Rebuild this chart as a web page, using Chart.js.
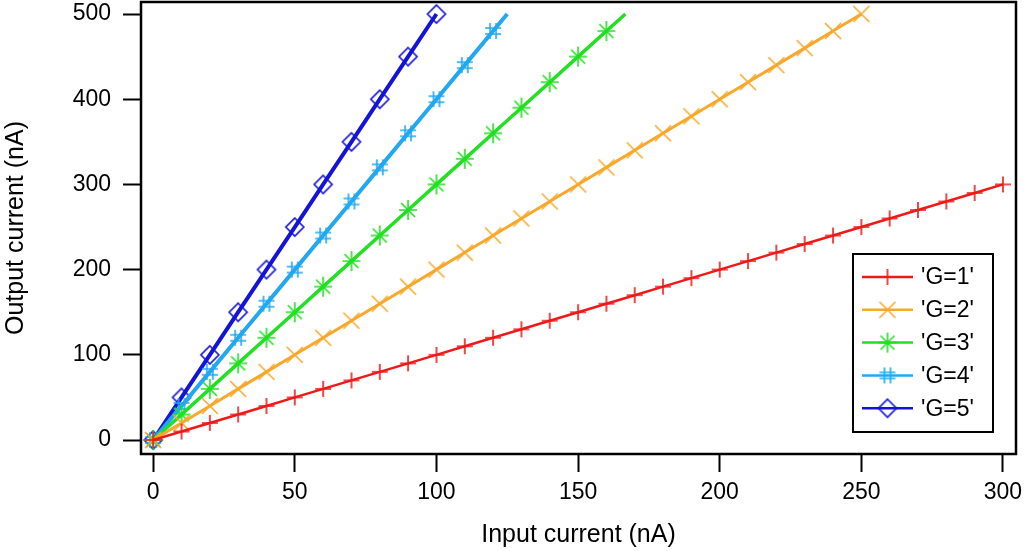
<!DOCTYPE html>
<html>
<head>
<meta charset="utf-8">
<script src="https://cdn.jsdelivr.net/npm/chart.js@4/dist/chart.umd.min.js"></script>
<style>
  html, body { margin: 0; padding: 0; background: #fff; }
</style>
</head>
<body>
<canvas id="chart" width="1025" height="551"></canvas>
<script>
// values (nA)
var inputG1 = [0,10,20,30,40,50,60,70,80,90,100,110,120,130,140,150,160,170,180,190,200,210,220,230,240,250,260,270,280,290,300];
var outputG1 = [0,10,20,30,40,50,60,70,80,90,100,110,120,130,140,150,160,170,180,190,200,210,220,230,240,250,260,270,280,290,300];
var inputG2 = [0,10,20,30,40,50,60,70,80,90,100,110,120,130,140,150,160,170,180,190,200,210,220,230,240,250];
var outputG2 = [0,20,40,60,80,100,120,140,160,180,200,220,240,260,280,300,320,340,360,380,400,420,440,460,480,500];
var inputG3 = [0,10,20,30,40,50,60,70,80,90,100,110,120,130,140,150,160,166.7];
var outputG3 = [0,30,60,90,120,150,180,210,240,270,300,330,360,390,420,450,480,500];
var inputG4 = [0,10,20,30,40,50,60,70,80,90,100,110,120,125];
var outputG4 = [0,40,80,120,160,200,240,280,320,360,400,440,480,500];
var inputG5 = [0,10,20,30,40,50,60,70,80,90,100];
var outputG5 = [0,50,100,150,200,250,300,350,400,450,500];

var seriesLabels = ["'G=1'", "'G=2'", "'G=3'", "'G=4'", "'G=5'"];
var xTicks = [0,50,100,150,200,250,300];
var yTicks = [0,100,200,300,400,500];

var colors = ['#f01818', '#f8a82a', '#22e022', '#22a8f0', '#1414d8'];
var FONT = 'Liberation Sans, Arial, sans-serif';

// marker glyphs drawn on small canvases
function marker(kind, color) {
  var c = document.createElement('canvas');
  c.width = 22; c.height = 22;
  var g = c.getContext('2d');
  g.strokeStyle = color;
  g.lineWidth = 1.6;
  g.beginPath();
  if (kind == 'plus') {
    g.moveTo(11, 3); g.lineTo(11, 19);
    g.moveTo(3, 11); g.lineTo(19, 11);
  } else if (kind == 'x') {
    g.moveTo(3, 3); g.lineTo(19, 19);
    g.moveTo(19, 3); g.lineTo(3, 19);
  } else if (kind == 'star') {
    g.moveTo(11, 1); g.lineTo(11, 21);
    g.moveTo(2, 11); g.lineTo(20, 11);
    g.moveTo(4, 4); g.lineTo(18, 18);
    g.moveTo(18, 4); g.lineTo(4, 18);
  } else if (kind == 'hash') {
    g.moveTo(8, 3); g.lineTo(8, 19);
    g.moveTo(14, 3); g.lineTo(14, 19);
    g.moveTo(3, 8); g.lineTo(19, 8);
    g.moveTo(3, 14); g.lineTo(19, 14);
  } else if (kind == 'diamond') {
    g.moveTo(11, 2); g.lineTo(20, 11); g.lineTo(11, 20); g.lineTo(2, 11); g.closePath();
  }
  g.stroke();
  return c;
}
var markers = [
  marker('plus', colors[0]),
  marker('x', colors[1]),
  marker('star', colors[2]),
  marker('hash', colors[3]),
  marker('diamond', colors[4])
];
var lineWidths = [2.5, 3, 3.5, 4, 4];

function pts(xs, ys) {
  return xs.map(function (x, i) { return { x: x, y: ys[i] }; });
}
var allData = [pts(inputG1, outputG1), pts(inputG2, outputG2), pts(inputG3, outputG3), pts(inputG4, outputG4), pts(inputG5, outputG5)];

var datasets = allData.map(function (d, i) {
  return {
    label: seriesLabels[i],
    data: d,
    borderColor: colors[i],
    borderWidth: lineWidths[i],
    pointStyle: markers[i],
    // the line end points without a marker (G=3, G=4)
    pointRadius: function (ctx) { return ctx.raw && ctx.raw.x % 10 === 0 ? 5 : 0; },
    pointHoverRadius: 5,
    tension: 0,
    fill: false
  };
});

// frame round the plot and the boxed legend
var framePlugin = {
  id: 'frame',
  afterDraw: function (chart) {
    var ctx = chart.ctx, a = chart.chartArea;
    ctx.save();
    ctx.strokeStyle = '#000';
    ctx.lineWidth = 2.5;
    ctx.strokeRect(a.left, a.top, a.right - a.left, a.bottom - a.top);

    // legend
    var bx = 853, by = 254, bw = 140, bh = 178;
    ctx.fillStyle = '#fff';
    ctx.fillRect(bx, by, bw, bh);
    ctx.lineWidth = 2;
    ctx.strokeRect(bx, by, bw, bh);
    ctx.font = '23px ' + FONT;
    ctx.textBaseline = 'middle';
    ctx.textAlign = 'left';
    chart.data.datasets.forEach(function (ds, i) {
      var y = 277 + i * 32.8;
      ctx.strokeStyle = ds.borderColor;
      ctx.lineWidth = 2.5;
      ctx.beginPath();
      ctx.moveTo(862, y); ctx.lineTo(913, y);
      ctx.stroke();
      ctx.drawImage(ds.pointStyle, 887.5 - 11, y - 11);
      ctx.fillStyle = '#000';
      ctx.fillText(ds.label, 921, y + 1);
    });
    ctx.restore();
  }
};

function noPadding() { return { left: 0, top: 0, right: 0, bottom: 0 }; }

var myChart = new Chart(document.getElementById('chart').getContext('2d'), {
  type: 'line',
  data: { datasets: datasets },
  options: {
    responsive: false,
    animation: false,
    devicePixelRatio: 1,
    layout: { autoPadding: false, padding: { left: 0, top: 2, right: 9, bottom: 0 } },
    plugins: {
      legend: { display: false },
      tooltip: { enabled: true }
    },
    scales: {
      x: {
        type: 'linear',
        min: -4.3,
        max: 304.6,
        afterBuildTicks: function (s) { s.ticks = xTicks.map(function (v) { return { value: v }; }); },
        afterFit: function (s) { s.height = 97; s.getPadding = noPadding; },
        border: { display: false },
        grid: { drawOnChartArea: false, drawTicks: true, tickLength: 18, tickWidth: 2, tickColor: '#000' },
        ticks: { color: '#000', font: { size: 23, family: FONT }, padding: 7, maxRotation: 0 },
        title: { display: true, text: 'Input current (nA)', color: '#000', font: { size: 25, family: FONT }, padding: { top: 0, bottom: 1 } }
      },
      y: {
        type: 'linear',
        min: -16.4,
        max: 514.1,
        afterBuildTicks: function (s) { s.ticks = yTicks.map(function (v) { return { value: v }; }); },
        afterFit: function (s) { s.width = 141; s.getPadding = noPadding; },
        border: { display: false },
        grid: { drawOnChartArea: false, drawTicks: true, tickLength: 18, tickWidth: 2, tickColor: '#000' },
        ticks: { color: '#000', font: { size: 23, family: FONT }, padding: 12 },
        title: { display: true, text: 'Output current (nA)', color: '#000', font: { size: 25, family: FONT }, padding: { top: 1, bottom: 0 } }
      }
    }
  },
  plugins: [framePlugin]
});
</script>
</body>
</html>
